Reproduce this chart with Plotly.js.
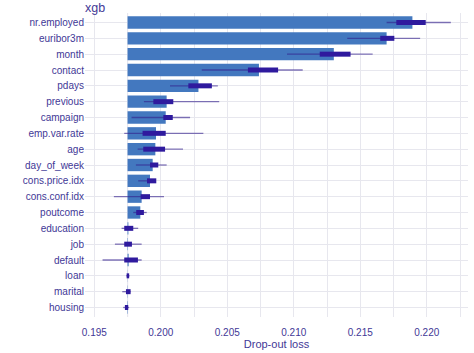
<!DOCTYPE html>
<html>
<head>
<meta charset="utf-8">
<script src="https://cdn.plot.ly/plotly-3.0.1.min.js"></script>
<style>html,body{margin:0;padding:0;background:#fff;}#chart{width:474px;height:353px;}</style>
</head>
<body>
<div id="chart"></div>
<script>
const features = ['nr.employed','euribor3m','month','contact','pdays','previous','campaign','emp.var.rate','age','day_of_week','cons.price.idx','cons.conf.idx','poutcome','education','job','default','loan','marital','housing'];
const baseline = 0.1975;
const meanLoss  = [0.21892,0.21698,0.21301,0.20738,0.20283,0.20044,0.20037,0.19964,0.19959,0.19939,0.19919,0.19856,0.19846,0.19756,0.19753,0.19758,0.19751,0.19752,0.19747];
const whiskerLo = [0.21698,0.21402,0.20949,0.20308,0.20069,0.19873,0.19780,0.19725,0.19826,0.19813,0.19830,0.19647,0.19793,0.19705,0.19655,0.19562,0.19740,0.19710,0.19717];
const whiskerHi = [0.22181,0.21950,0.21593,0.21067,0.20429,0.20439,0.20220,0.20320,0.20167,0.20044,0.19964,0.20024,0.19894,0.19830,0.19856,0.19856,0.19765,0.19773,0.19762];
const boxLo     = [0.21771,0.21650,0.21195,0.20655,0.20207,0.19944,0.20019,0.19863,0.19868,0.19919,0.19896,0.19848,0.19815,0.19725,0.19725,0.19725,0.19743,0.19738,0.19730];
const boxHi     = [0.21992,0.21756,0.21427,0.20882,0.20384,0.20094,0.20090,0.20037,0.20032,0.19981,0.19966,0.19919,0.19873,0.19793,0.19783,0.19828,0.19762,0.19773,0.19755];

function segs(lo, hi) {
  const xs = [], ys = [];
  features.forEach((f, i) => { xs.push(lo[i], hi[i], null); ys.push(f, f, null); });
  return {xs, ys};
}
const w = segs(whiskerLo, whiskerHi);
const b = segs(boxLo, boxHi);
const textColor = '#423896';
const grid = '#e7e7ee';

const data = [
  {type:'bar', orientation:'h', y:features, x:meanLoss.map(v => v - baseline), base:baseline,
   marker:{color:'#4378bf'}, width:0.78, hoverinfo:'skip'},
  {type:'scatter', mode:'lines', x:w.xs, y:w.ys, line:{color:'rgba(50,30,140,0.6)', width:1.3}, hoverinfo:'skip'},
  {type:'scatter', mode:'lines', x:b.xs, y:b.ys, line:{color:'#2f1a9e', width:5}, hoverinfo:'skip'}
];

const layout = {
  width:474, height:353,
  margin:{l:85, r:6, t:13, b:36},
  paper_bgcolor:'#fff', plot_bgcolor:'#fff',
  showlegend:false,
  font:{family:'Arial, "Liberation Sans", sans-serif', color:textColor},
  title:{text:'xgb', x:85/474, xref:'container', xanchor:'left', y:1-7.5/353, yref:'container', yanchor:'middle',
         font:{size:12.5, color:textColor}},
  xaxis:{range:[0.1943,0.2231], tick0:0.195, dtick:0.005, tickformat:'.3f',
         showgrid:true, gridcolor:grid, gridwidth:1,
         minor:{dtick:0.0025, showgrid:true, gridcolor:grid, gridwidth:1},
         zeroline:false, showline:false, ticks:'', ticklabelstandoff:8, tickfont:{size:10, color:textColor},
         title:{text:'Drop-out loss', font:{size:11, color:textColor}, standoff:3}},
  yaxis:{type:'category', categoryorder:'array', categoryarray:features.slice().reverse(),
         range:[-0.6, 18.6], showgrid:true, gridcolor:grid, gridwidth:1,
         zeroline:false, showline:false, ticks:'', tickfont:{size:10, color:textColor}},
  shapes:[{type:'line', xref:'x', yref:'paper', x0:baseline, x1:baseline, y0:0, y1:1,
           line:{color:'rgba(55,30,163,0.45)', width:1}, layer:'below'}]
};
Plotly.newPlot('chart', data, layout, {displayModeBar:false, staticPlot:true});
</script>
</body>
</html>
